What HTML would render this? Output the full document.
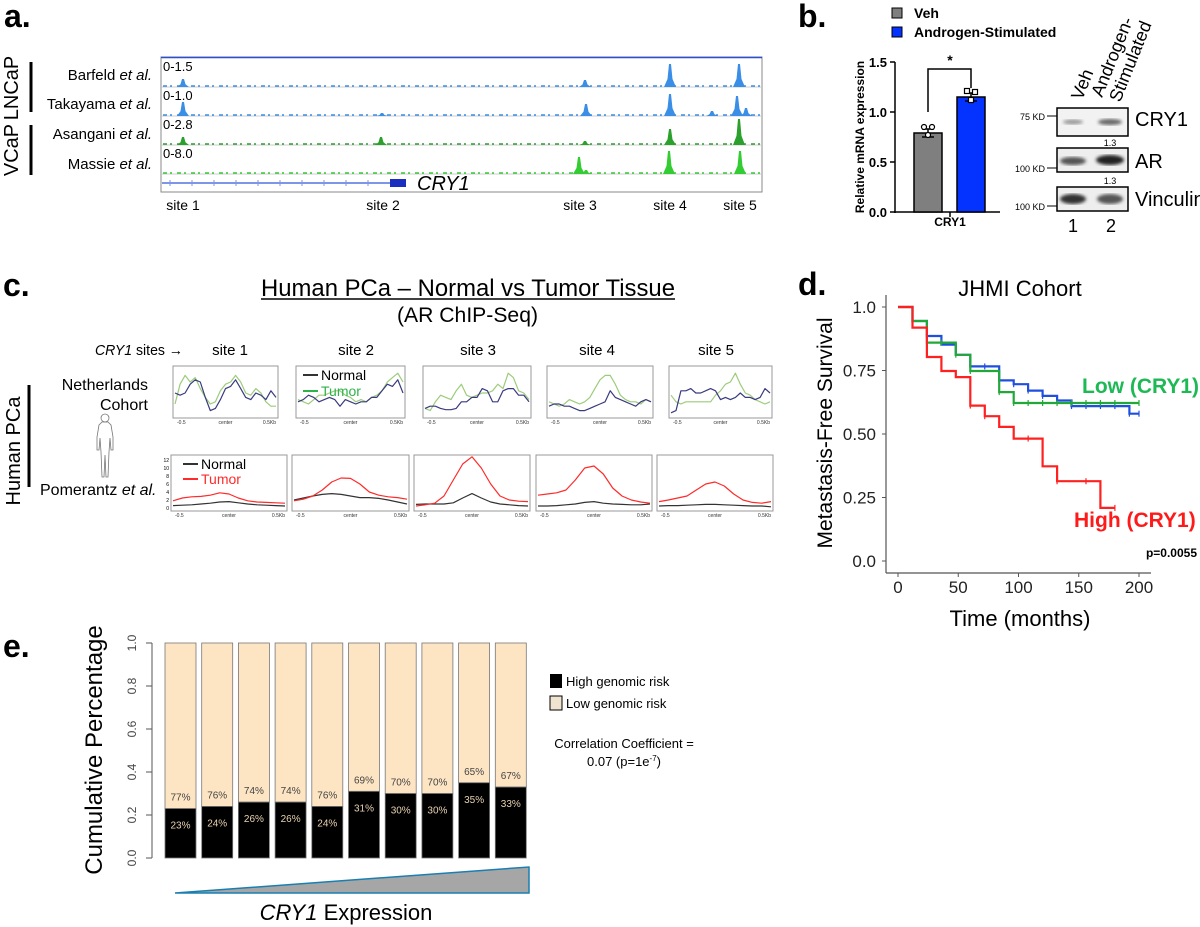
<!DOCTYPE html>
<html><head><meta charset="utf-8"><style>
html,body{margin:0;padding:0;background:#fff;}
svg{display:block;font-family:"Liberation Sans",sans-serif;}
</style></head><body>
<svg id="fig" width="1200" height="927" viewBox="0 0 1200 927" xmlns="http://www.w3.org/2000/svg">
<!-- Panel a -->
<g>
<text x="4" y="27" font-size="32" font-weight="bold">a.</text>
<line x1="31" y1="62" x2="31" y2="112" stroke="#000" stroke-width="3"/>
<line x1="31" y1="125" x2="31" y2="175" stroke="#000" stroke-width="3"/>
<text transform="translate(18,88) rotate(-90)" text-anchor="middle" font-size="20">LNCaP</text>
<text transform="translate(18,150) rotate(-90)" text-anchor="middle" font-size="20">VCaP</text>
<text x="152" y="80" text-anchor="end" font-size="15">Barfeld <tspan font-style="italic">et al.</tspan></text>
<text x="152" y="109" text-anchor="end" font-size="15">Takayama <tspan font-style="italic">et al.</tspan></text>
<text x="152" y="139" text-anchor="end" font-size="15">Asangani <tspan font-style="italic">et al.</tspan></text>
<text x="152" y="169" text-anchor="end" font-size="15">Massie <tspan font-style="italic">et al.</tspan></text>
<rect x="161" y="57" width="601" height="135" fill="none" stroke="#888" stroke-width="1"/>
<line x1="161" y1="57.5" x2="762" y2="57.5" stroke="#2a4fd0" stroke-width="1.5"/>
<g id="tracks"></g>
<line x1="162" y1="183" x2="390" y2="183" stroke="#7f95e8" stroke-width="2"/>
<g id="genetick"></g>
<rect x="390" y="179" width="16" height="8" fill="#1a2fc0"/>
<text x="417" y="190" font-size="20" font-style="italic">CRY1</text>
<text x="183" y="210" text-anchor="middle" font-size="14">site 1</text>
<text x="383" y="210" text-anchor="middle" font-size="14">site 2</text>
<text x="580" y="210" text-anchor="middle" font-size="14">site 3</text>
<text x="670" y="210" text-anchor="middle" font-size="14">site 4</text>
<text x="740" y="210" text-anchor="middle" font-size="14">site 5</text>
</g>

<!-- Panel b -->
<g>
<text x="798" y="27" font-size="32" font-weight="bold">b.</text>
<rect x="892" y="8" width="10" height="10" fill="#7f7f7f" stroke="#000"/>
<text x="914" y="18" font-size="14" font-weight="bold">Veh</text>
<rect x="892" y="27" width="10" height="10" fill="#0433ff" stroke="#000"/>
<text x="914" y="37" font-size="14" font-weight="bold">Androgen-Stimulated</text>
<text transform="translate(864,137) rotate(-90)" text-anchor="middle" font-size="12" font-weight="bold">Relative mRNA expression</text>
<g id="barb"></g>
<text x="950" y="226" text-anchor="middle" font-size="12" font-weight="bold">CRY1</text>
<!-- western -->
<text transform="translate(1082,101) rotate(-68)" font-size="18">Veh</text>
<text transform="translate(1102,98) rotate(-68)" font-size="18">Androgen-</text>
<text transform="translate(1120,103) rotate(-68)" font-size="18">Stimulated</text>
<defs><filter id="blur"><feGaussianBlur stdDeviation="1.6"/></filter></defs>
<rect x="1057" y="108" width="71" height="28" fill="#f2f2f2" stroke="#000" stroke-width="1.5"/>
<ellipse cx="1073" cy="122" rx="10" ry="2.5" fill="#999" filter="url(#blur)"/>
<ellipse cx="1110" cy="122" rx="12" ry="3" fill="#666" filter="url(#blur)"/>
<rect x="1057" y="148" width="71" height="24" fill="#eee" stroke="#000" stroke-width="1.5"/>
<ellipse cx="1073" cy="161" rx="13" ry="4" fill="#555" filter="url(#blur)"/>
<ellipse cx="1110" cy="160" rx="14" ry="5" fill="#222" filter="url(#blur)"/>
<rect x="1057" y="187" width="71" height="24" fill="#eee" stroke="#000" stroke-width="1.5"/>
<ellipse cx="1073" cy="199" rx="13" ry="5" fill="#333" filter="url(#blur)"/>
<ellipse cx="1110" cy="199" rx="13" ry="5" fill="#555" filter="url(#blur)"/>
<text x="1135" y="126" font-size="20">CRY1</text>
<text x="1135" y="168" font-size="20">AR</text>
<text x="1135" y="206" font-size="20">Vinculin</text>
<text x="1045" y="120" text-anchor="end" font-size="9">75 KD</text>
<line x1="1047" y1="116" x2="1057" y2="116" stroke="#000"/>
<text x="1045" y="172" text-anchor="end" font-size="9">100 KD</text>
<line x1="1047" y1="168" x2="1057" y2="168" stroke="#000"/>
<text x="1045" y="210" text-anchor="end" font-size="9">100 KD</text>
<line x1="1047" y1="206" x2="1057" y2="206" stroke="#000"/>
<text x="1110" y="146" text-anchor="middle" font-size="9">1.3</text>
<text x="1110" y="184" text-anchor="middle" font-size="9">1.3</text>
<text x="1073" y="232" text-anchor="middle" font-size="18">1</text>
<text x="1111" y="232" text-anchor="middle" font-size="18">2</text>
</g>

<!-- Panel c -->
<g>
<text x="3" y="296" font-size="32" font-weight="bold">c.</text>
<text x="261" y="296" font-size="24" textLength="414" lengthAdjust="spacingAndGlyphs">Human PCa – Normal vs Tumor Tissue</text>
<line x1="261" y1="299" x2="675" y2="299" stroke="#000" stroke-width="1.5"/>
<text x="397" y="322" font-size="21" textLength="141" lengthAdjust="spacingAndGlyphs">(AR ChIP-Seq)</text>
<text x="95" y="355" font-size="15" textLength="88" lengthAdjust="spacingAndGlyphs"><tspan font-style="italic">CRY1</tspan> sites →</text>
<text x="230" y="355" text-anchor="middle" font-size="15">site 1</text>
<text x="356" y="355" text-anchor="middle" font-size="15">site 2</text>
<text x="478" y="355" text-anchor="middle" font-size="15">site 3</text>
<text x="597" y="355" text-anchor="middle" font-size="15">site 4</text>
<text x="716" y="355" text-anchor="middle" font-size="15">site 5</text>
<text transform="translate(20,451) rotate(-90)" text-anchor="middle" font-size="20">Human PCa</text>
<line x1="29" y1="385" x2="29" y2="487" stroke="#000" stroke-width="3"/>
<text x="148" y="390" text-anchor="end" font-size="16">Netherlands</text>
<text x="148" y="410" text-anchor="end" font-size="16">Cohort</text>
<text x="40" y="495" font-size="16">Pomerantz <tspan font-style="italic">et al.</tspan></text>
<g fill="none" stroke="#777" stroke-width="0.8">
<circle cx="105" cy="418" r="4"/>
<path d="M102,422 L99,425 L97,437 L97,450 L99,450 L100,438 L101,452 L102,477 L104,477 L105,455 L106,477 L108,477 L109,452 L110,438 L111,450 L113,450 L113,437 L111,425 L108,422 Z"/>
</g>
<g id="cplots"></g>
</g>

<!-- Panel d -->
<g>
<text x="798" y="295" font-size="32" font-weight="bold">d.</text>
<text x="1020" y="296" text-anchor="middle" font-size="22">JHMI Cohort</text>
<text transform="translate(832,433) rotate(-90)" text-anchor="middle" font-size="21">Metastasis-Free Survival</text>
<text x="1020" y="626" text-anchor="middle" font-size="22">Time (months)</text>
<g id="km"></g>
<text x="1082" y="393" font-size="21" font-weight="bold" fill="#1db954">Low (CRY1)</text>
<text x="1074" y="527" font-size="21" font-weight="bold" fill="#ff1a1a">High (CRY1)</text>
<text x="1197" y="557" text-anchor="end" font-size="12" font-weight="bold">p=0.0055</text>
</g>

<!-- Panel e -->
<g>
<text x="3" y="657" font-size="32" font-weight="bold">e.</text>
<text transform="translate(102,750) rotate(-90)" text-anchor="middle" font-size="24">Cumulative Percentage</text>
<g id="stack"></g>
<polygon points="175,893 529,867 529,893" fill="#a6a6a6" stroke="#1a7fb0" stroke-width="1.5"/>
<text x="346" y="920" text-anchor="middle" font-size="22"><tspan font-style="italic">CRY1</tspan> Expression</text>
<rect x="550" y="674" width="12" height="14" fill="#000"/>
<text x="566" y="686" font-size="13">High genomic risk</text>
<rect x="550" y="696" width="12" height="14" fill="#f0e4d0" stroke="#000"/>
<text x="566" y="708" font-size="13">Low genomic risk</text>
<text x="624" y="748" text-anchor="middle" font-size="13">Correlation Coefficient =</text>
<text x="624" y="766" text-anchor="middle" font-size="13">0.07 (p=1e<tspan font-size="8" dy="-5">-7</tspan><tspan dy="5">)</tspan></text>
</g>
</svg>
<script>
const NS = "http://www.w3.org/2000/svg";
function mk(parent, tag, attrs){ const e=document.createElementNS(NS,tag); for(const k in attrs) e.setAttribute(k,attrs[k]); parent.appendChild(e); return e; }

// ---------- Panel a data ----------
const trackNames = ["barfeld","takayama","asangani","massie"];
const trackScales = ["0-1.5","0-1.0","0-2.8","0-8.0"];
const trackColors = ["#3a8ee6","#3a8ee6","#2ca02c","#33cc33"];
const peakPos = [[183,585,670,739],[183,382,586,670,712,737,746],[183,381,585,670,739],[579,586,669,740]];
const peakHeights = [[8,7,23,23],[14,3,12,22,5,20,8],[8,8,4,16,26],[17,4,23,23]];
const trackBase = [87,116,145,174];
const tg = document.getElementById('tracks');
trackNames.forEach((n,i)=>{
  const b = trackBase[i];
  const base = mk(tg,'line',{x1:162,y1:b,x2:761,y2:b,stroke:'#ccc','stroke-width':1});
  
  
  const noise = mk(tg,'line',{x1:163,y1:b-1,x2:760,y2:b-1,stroke:trackColors[i],'stroke-width':1.5,'stroke-dasharray':'4 3 2 5'});
  
  
  const lab = mk(tg,'text',{x:163,y:trackBase[i]-16,'font-size':13});
  lab.textContent = trackScales[i];
  
  
  peakPos[i].forEach((x,j)=>{
    const h = peakHeights[i][j];
    const p = mk(tg,'polygon',{points:`${x-6},${b} ${x-2.5},${b-h*0.35} ${x-1},${b-h} ${x+1},${b-h} ${x+2.5},${b-h*0.35} ${x+6},${b}`,fill:trackColors[i]});
    
    
  });
});
const gt = document.getElementById('genetick');
for(let x=170;x<390;x+=22){
  const t = mk(gt,'line',{x1:x,y1:180,x2:x,y2:186,stroke:'#7f95e8'});
  
  
}

// ---------- Panel b data ----------
const bGroups = ["Veh","Androgen-Stimulated"];
const bMeans = [0.79,1.15];
const bSem = [0.04,0.04];
const bPoints = [[0.85,0.85,0.77],[1.21,1.20,1.12]];
const bTicks = [0,0.5,1.0,1.5];
const bColors = ["#7f7f7f","#0433ff"];
const bY = v => 212 - 100*v;
const bX = [928, 971];
const bb = document.getElementById('barb');
const yax = mk(bb,'line',{x1:895,y1:bY(1.5),x2:895,y2:213,stroke:'#000','stroke-width':1.5});


const xax = mk(bb,'line',{x1:894,y1:212,x2:1000,y2:212,stroke:'#000','stroke-width':1.5});


mk(bb,'line',{x1:950,y1:212,x2:950,y2:217,stroke:'#000','stroke-width':1.5});
bTicks.forEach(t=>{
  mk(bb,'line',{x1:890,y1:bY(t),x2:895,y2:bY(t),stroke:'#000','stroke-width':1.5});
  const tx = mk(bb,'text',{x:887,y:bY(t)+5,'text-anchor':'end','font-size':13,'font-weight':'bold'});
  tx.textContent = t.toFixed(1);
  
  
});
bGroups.forEach((g,i)=>{
  const cx = bX[i];
  const r = mk(bb,'rect',{x:cx-14,y:bY(bMeans[i]),width:28,height:212-bY(bMeans[i]),fill:bColors[i],stroke:'#000','stroke-width':1.5});
  
  
  mk(bb,'line',{x1:cx,y1:bY(bMeans[i]+bSem[i]),x2:cx,y2:bY(bMeans[i]-bSem[i]),stroke:'#000','stroke-width':1.5});
  mk(bb,'line',{x1:cx-6,y1:bY(bMeans[i]+bSem[i]),x2:cx+6,y2:bY(bMeans[i]+bSem[i]),stroke:'#000','stroke-width':1.5});
  mk(bb,'line',{x1:cx-6,y1:bY(bMeans[i]-bSem[i]),x2:cx+6,y2:bY(bMeans[i]-bSem[i]),stroke:'#000','stroke-width':1.5});
  const offs=[-4,4,0];
  bPoints[i].forEach((v,k)=>{
    let m;
    if(i===0) m = mk(bb,'circle',{cx:cx+offs[k],cy:bY(v),r:2.5,fill:'#fff',stroke:'#000','stroke-width':1.2});
    else m = mk(bb,'rect',{x:cx+offs[k]-2.5,y:bY(v)-2.5,width:5,height:5,fill:'#fff',stroke:'#000','stroke-width':1.2});
    
    
  });
});
const br = mk(bb,'polyline',{points:`${bX[0]},${bY(1.0)} ${bX[0]},${bY(1.43)} ${bX[1]},${bY(1.43)} ${bX[1]},${bY(1.24)}`,fill:'none',stroke:'#000','stroke-width':1.5});


const st = mk(bb,'text',{x:950,y:bY(1.5)+3,'text-anchor':'middle','font-size':14,'font-weight':'bold'});
st.textContent='*';



// ---------- Panel c data ----------
const nethNormal = [
 [0.5,0.45,0.5,0.7,0.8,0.75,0.4,0.1,0.15,0.35,0.6,0.65,0.8,0.6,0.4,0.35,0.5,0.45,0.35,0.55,0.4],
 [0.3,0.35,0.45,0.4,0.3,0.35,0.4,0.35,0.2,0.35,0.3,0.25,0.3,0.3,0.4,0.4,0.55,0.7,0.65,0.8,0.5],
 [0.15,0.2,0.2,0.15,0.12,0.12,0.15,0.3,0.3,0.4,0.4,0.6,0.55,0.3,0.3,0.55,0.6,0.6,0.45,0.45,0.3],
 [0.2,0.25,0.25,0.2,0.2,0.15,0.1,0.1,0.15,0.2,0.25,0.3,0.55,0.4,0.35,0.3,0.25,0.2,0.3,0.35,0.3],
 [0.05,0.1,0.55,0.55,0.6,0.5,0.5,0.55,0.6,0.55,0.35,0.4,0.35,0.4,0.5,0.4,0.4,0.35,0.4,0.6,0.5]];
const nethTumor = [
 [0.25,0.7,0.9,0.75,0.85,0.6,0.4,0.25,0.3,0.55,0.7,0.75,0.9,0.75,0.5,0.45,0.6,0.5,0.3,0.2,0.2],
 [0.35,0.3,0.25,0.35,0.45,0.45,0.5,0.55,0.55,0.45,0.4,0.3,0.35,0.3,0.4,0.45,0.55,0.75,0.85,0.95,0.75],
 [0.15,0.1,0.3,0.45,0.4,0.35,0.55,0.7,0.45,0.4,0.45,0.5,0.5,0.55,0.7,0.6,0.95,0.85,0.55,0.5,0.35],
 [0.3,0.25,0.2,0.25,0.35,0.3,0.25,0.3,0.4,0.6,0.8,0.9,0.9,0.7,0.45,0.35,0.3,0.3,0.25,0.35,0.3],
 [0.45,0.3,0.25,0.3,0.3,0.3,0.3,0.3,0.3,0.45,0.55,0.7,0.75,0.95,0.7,0.5,0.45,0.35,0.3,0.25,0.3]];
const pomNormal = [
 [0.6,0.7,0.8,1.0,1.2,1.5,1.6,1.3,1.0,0.8,0.7,0.6,0.5],
 [2,2.5,3,3.4,3.6,3.4,3.0,2.6,2.6,2.4,2.0,1.5,1.0],
 [0.9,1.0,1.0,1.0,1.3,2.5,3.6,2.5,1.5,1.0,0.8,0.6,0.5],
 [0.5,0.5,0.6,0.8,1.0,1.4,1.6,1.2,1.0,0.9,0.8,0.8,1.0],
 [0.5,0.6,0.6,0.7,0.8,0.9,0.9,0.8,0.7,0.6,0.5,0.5,0.3]];
const pomTumor = [
 [1.8,2.5,2.8,2.9,3.2,3.8,3.5,2.5,1.8,1.5,1.4,1.3,1.2],
 [1.8,2.2,3.0,4.5,6.5,7.5,7.4,6.0,4.0,3.2,2.8,2.6,2.2],
 [0.5,0.8,1.2,3,7,11,12.8,10,6,3,2,1.7,1.6],
 [3.2,3.5,3.8,4.5,7,10,10.5,8.5,5,3,2,1.5,1.2],
 [1.6,2,2.5,3,4.5,6,6.5,5.5,3.5,2,1.4,1.2,1.6]];
const pomTicks = [0,2,4,6,8,10,12];
const nethBoxes = [[173,278],[296,405],[423,531],[547,653],[669,772]];
const pomBoxes = [[171,287],[292,409],[414,530],[536,652],[657,773]];
const cg = document.getElementById('cplots');
function lineFrom(vals, x0, x1, yfn, color, name){
  const pts = vals.map((v,k)=>`${(x0+2+(x1-x0-4)*k/(vals.length-1)).toFixed(1)},${yfn(v).toFixed(1)}`).join(' ');
  const pl = mk(cg,'polyline',{points:pts,fill:'none',stroke:color,'stroke-width':1.2,'stroke-linejoin':'round'});
  
  
}
function xlabels(x0,x1,y){
  [['-0.5',x0+4,'start'],['center',(x0+x1)/2,'middle'],['0.5Kb',x1-2,'end']].forEach(a=>{
    const t = mk(cg,'text',{x:a[1],y:y,'font-size':5,'text-anchor':a[2],fill:'#333'});
    t.textContent=a[0];
    
    
  });
}
nethBoxes.forEach((bx,i)=>{
  const [x0,x1]=bx, y0=366, y1=418;
  const r = mk(cg,'rect',{x:x0,y:y0,width:x1-x0,height:y1-y0,fill:'#fff',stroke:'#999','stroke-width':1});
  
  
  const yf = v => y1-3-(y1-y0-8)*v;
  lineFrom(nethTumor[i],x0,x1,yf,'#9ccc7a','netherlands-site'+(i+1)+'-tumor');
  lineFrom(nethNormal[i],x0,x1,yf,'#3a3a80','netherlands-site'+(i+1)+'-normal');
  xlabels(x0,x1,424);
});
pomBoxes.forEach((bx,i)=>{
  const [x0,x1]=bx, y0=455, y1=511;
  const r = mk(cg,'rect',{x:x0,y:y0,width:x1-x0,height:y1-y0,fill:'#fff',stroke:'#999','stroke-width':1});
  
  
  const yf = v => 508 - v*(48/12);
  if(i===0) pomTicks.forEach(t=>{
    const tx = mk(cg,'text',{x:x0-2,y:yf(t)+2,'font-size':5,'text-anchor':'end'});
    tx.textContent=t;
    
    
  });
  lineFrom(pomNormal[i],x0,x1,yf,'#333','pomerantz-site'+(i+1)+'-normal');
  lineFrom(pomTumor[i],x0,x1,yf,'#ff2a2a','pomerantz-site'+(i+1)+'-tumor');
  xlabels(x0,x1,517);
});
[[303,375,'#333','Normal','#000'],[303,391,'#2db34a','Tumor','#2db34a'],[183,464,'#333','Normal','#000'],[183,479,'#ff2a2a','Tumor','#ff2a2a']].forEach(l=>{
  mk(cg,'line',{x1:l[0],y1:l[1],x2:l[0]+15,y2:l[1],stroke:l[2],'stroke-width':2});
  const t = mk(cg,'text',{x:l[0]+18,y:l[1]+5,'font-size':14,fill:l[4]});
  t.textContent=l[3];
  
  
});

// ---------- Panel d data ----------
const highTimes = [0,12,24,36,48,60,72,84,96,120,132,168,180];
const highSurv  = [1.0,0.919,0.803,0.748,0.724,0.612,0.570,0.528,0.482,0.373,0.314,0.209,0.209];
const highCens  = [60,72,108,132,156,180];
const blueTimes = [0,12,24,36,48,60,84,96,108,120,132,144,192,200];
const blueSurv  = [1.0,0.945,0.886,0.852,0.812,0.766,0.711,0.696,0.671,0.650,0.632,0.610,0.580,0.580];
const blueCens  = [60,72,84,96,108,120,144,156,168,180,192,200];
const lowTimes  = [0,12,24,48,60,84,96,200];
const lowSurv   = [1.0,0.945,0.860,0.812,0.748,0.665,0.622,0.622];
const lowCens   = [24,36,48,60,84,96,108,120,132,144,156,168,180,200];
const dXTicks = [0,50,100,150,200];
const dYTicks = [0,0.25,0.5,0.75,1.0];
const dX = t => 898 + t*(241/200);
const dY = s => 561 - s*254;
const km = document.getElementById('km');
const ya = mk(km,'line',{x1:886,y1:295,x2:886,y2:573,stroke:'#555','stroke-width':1.2});


const xa = mk(km,'line',{x1:886,y1:573,x2:1151,y2:573,stroke:'#555','stroke-width':1.2});


dYTicks.forEach(t=>{
  mk(km,'line',{x1:882,y1:dY(t),x2:886,y2:dY(t),stroke:'#555'});
  const tx = mk(km,'text',{x:876,y:dY(t)+6,'text-anchor':'end','font-size':17,fill:'#222'});
  tx.textContent = (t===0||t===1)? t.toFixed(1) : t.toFixed(2);
  
  
});
dXTicks.forEach(t=>{
  mk(km,'line',{x1:dX(t),y1:573,x2:dX(t),y2:577,stroke:'#555'});
  const tx = mk(km,'text',{x:dX(t),y:593,'text-anchor':'middle','font-size':17,fill:'#222'});
  tx.textContent = t;
  
  
});
function survAt(times,surv,t){ let s=surv[0]; for(let i=0;i<times.length;i++){ if(times[i]<=t) s=surv[i]; } return s; }
function stepCurve(times,surv,cens,color,name){
  let d = `M${dX(times[0])},${dY(surv[0])}`;
  for(let i=1;i<times.length;i++){ d += ` H${dX(times[i]).toFixed(1)} V${dY(surv[i]).toFixed(1)}`; }
  const p = mk(km,'path',{d:d,fill:'none',stroke:color,'stroke-width':2.2});
  
  
  cens.forEach(c=>{
    const y = dY(survAt(times,surv,c));
    const m = mk(km,'line',{x1:dX(c),y1:y-3,x2:dX(c),y2:y+3,stroke:color,'stroke-width':1.2});
    
    
  });
}
stepCurve(blueTimes,blueSurv,blueCens,'#1f4fe0','km-blue-curve');
stepCurve(lowTimes,lowSurv,lowCens,'#22a838','km-low-curve');
stepCurve(highTimes,highSurv,highCens,'#ff2020','km-high-curve');

// ---------- Panel e data ----------
const eHigh = [23,24,26,26,24,31,30,30,35,33];
const eLow  = [77,76,74,74,76,69,70,70,65,67];
const eTicks = [0,0.2,0.4,0.6,0.8,1.0];
const eY = v => 858 - v*215;
const eX = i => 165 + i*36.7;
const sg = document.getElementById('stack');
const eya = mk(sg,'line',{x1:152,y1:eY(0),x2:152,y2:eY(1),stroke:'#555'});


eTicks.forEach(t=>{
  mk(sg,'line',{x1:146,y1:eY(t),x2:152,y2:eY(t),stroke:'#555'});
  const tx = mk(sg,'text',{transform:`translate(136,${eY(t)}) rotate(-90)`,'text-anchor':'middle','font-size':12,fill:'#444'});
  tx.textContent = t.toFixed(1);
  
  
});
eHigh.forEach((h,i)=>{
  const x = eX(i), w = 31;
  const top = mk(sg,'rect',{x:x,y:eY(1),width:w,height:eY(h/100)-eY(1),fill:'#fde5c4',stroke:'#777','stroke-width':0.8});
  
  
  const bot = mk(sg,'rect',{x:x,y:eY(h/100),width:w,height:eY(0)-eY(h/100),fill:'#000',stroke:'#777','stroke-width':0.8});
  
  
  const t1 = mk(sg,'text',{x:x+w/2,y:eY(h/100)-8,'text-anchor':'middle','font-size':10,fill:'#444'});
  t1.textContent = eLow[i]+'%';
  
  
  const t2 = mk(sg,'text',{x:x+w/2,y:eY(h/100)+20,'text-anchor':'middle','font-size':10,fill:'#e8d2b0'});
  t2.textContent = h+'%';
  
  
});
</script>
</body></html>
